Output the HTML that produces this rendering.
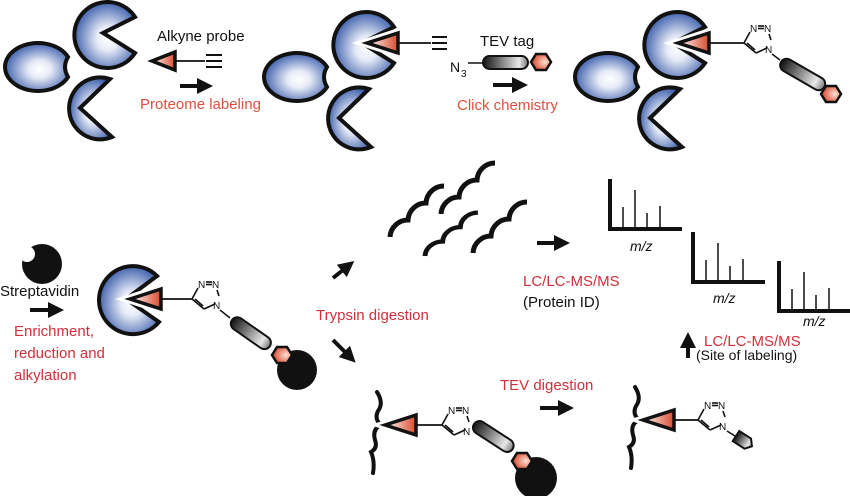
<!DOCTYPE html>
<html><head><meta charset="utf-8"><style>
html,body{margin:0;padding:0;background:#fff;}
svg{display:block;}
text{font-family:"Liberation Sans",sans-serif;}
.r{fill:#d0303a;font-size:15px;}
.b{fill:#111;font-size:15px;}
.n{font-size:10px;fill:#111;}
</style></head><body>
<svg width="850" height="496" viewBox="0 0 850 496" xmlns="http://www.w3.org/2000/svg">
<defs>
<radialGradient id="bl" cx="0.55" cy="0.55" r="0.6">
<stop offset="0" stop-color="#ffffff"/><stop offset="0.3" stop-color="#e6ebf7"/><stop offset="1" stop-color="#2b50a4"/>
</radialGradient>
<linearGradient id="rd" x1="0" x2="1" y1="0" y2="0">
<stop offset="0" stop-color="#fff"/><stop offset="1" stop-color="#d84a2c"/>
</linearGradient>
<linearGradient id="cap" x1="0" x2="1" y1="0" y2="0">
<stop offset="0" stop-color="#111"/><stop offset="0.8" stop-color="#e8e8e8"/><stop offset="1" stop-color="#777"/>
</linearGradient>
<radialGradient id="hx" cx="0.7" cy="0.5" r="0.7">
<stop offset="0" stop-color="#fbe0d0"/><stop offset="1" stop-color="#d63d24"/>
</radialGradient>
<marker id="ah" markerWidth="4" markerHeight="4" refX="2" refY="2" orient="auto" markerUnits="strokeWidth">
<path d="M0,0 L4,2 L0,4 Z" fill="#111"/>
</marker>
<g id="prot" stroke="#111" stroke-width="4" stroke-linejoin="miter" fill="url(#bl)">
<path d="M135,17 A33,33 0 1 0 135,53 L103,33 Z"/>
<path d="M68,57 A33,24 0 1 0 68,77 Q62,67 68,57 Z"/>
<path d="M110,79 L80,108 L112,137 A31,31 0 1 1 110,79 Z"/>
</g>
<g id="tri">
<polygon points="0,0 34,-11 34,11" fill="none" stroke="#fff" stroke-width="8" stroke-linejoin="miter"/>
<polygon points="2,0 33,-10 33,10" fill="url(#rd)" stroke="#111" stroke-width="3.5" stroke-linejoin="miter"/>
</g>
<g id="taz" stroke="#111" stroke-width="1.6" fill="none">
<line x1="0" y1="0" x2="6" y2="-11"/>
<line x1="14" y1="-17" x2="20" y2="-17"/>
<line x1="14" y1="-14.5" x2="20" y2="-14.5"/>
<line x1="25" y1="-9" x2="27" y2="-3"/>
<line x1="23" y1="5" x2="12" y2="10"/>
<line x1="12" y1="10" x2="0" y2="0"/>
<line x1="11" y1="7" x2="3" y2="0"/>
</g>
<g id="pep" fill="none" stroke="#111" stroke-width="4" stroke-linecap="round">
<path d="M-4,-33 Q3,-22 -3,-14 Q-7,-6 0,0 Q-9,4 -6,15 Q-3,23 -10,27 Q-6,36 -8,48"/>
</g>
<g id="frag"><path d="M0,0 a18,18 0 0 1 18,-17 a18,18 0 0 1 18,-17 a18,18 0 0 1 18,-17" fill="none" stroke="#111" stroke-width="5"/></g>
<g id="spec" stroke="#111">
<line x1="0" y1="-50" x2="0" y2="1" stroke-width="4"/>
<line x1="-2" y1="0" x2="72" y2="0" stroke-width="4"/>
<line x1="13" y1="0" x2="13" y2="-22" stroke-width="1.5"/>
<line x1="25" y1="0" x2="25" y2="-39" stroke-width="1.5"/>
<line x1="37" y1="0" x2="37" y2="-16" stroke-width="1.5"/>
<line x1="50" y1="0" x2="50" y2="-23" stroke-width="1.5"/>
</g>
</defs>

<use href="#prot"/>
<use href="#prot" transform="translate(259,10)"/>
<use href="#prot" transform="translate(570,10)"/>

<text x="157" y="41" class="b">Alkyne probe</text>
<g transform="translate(150,61)"><polygon points="2,0 25,-9 25,9" fill="url(#rd)" stroke="#111" stroke-width="3.5"/></g>
<line x1="175" y1="61" x2="205" y2="61" stroke="#111" stroke-width="1.8"/>
<g stroke="#111" stroke-width="2"><line x1="206" y1="55" x2="222" y2="55"/><line x1="206" y1="61" x2="222" y2="61"/><line x1="206" y1="67" x2="222" y2="67"/></g>
<line x1="180" y1="86" x2="205" y2="86" stroke="#111" stroke-width="4" marker-end="url(#ah)"/>
<text x="140" y="109" style="fill:#e0503f;font-size:15px">Proteome labeling</text>

<use href="#tri" transform="translate(365,43)"/>
<line x1="399" y1="43" x2="431" y2="43" stroke="#111" stroke-width="1.8"/>
<g stroke="#111" stroke-width="2"><line x1="432" y1="37" x2="447" y2="37"/><line x1="432" y1="43" x2="447" y2="43"/><line x1="432" y1="49" x2="447" y2="49"/></g>

<text x="480" y="46" class="b">TEV tag</text>
<text x="450" y="72" class="b" style="font-size:14px">N</text><text x="461" y="77" class="b" style="font-size:10px">3</text>
<line x1="468" y1="63" x2="483" y2="63" stroke="#111" stroke-width="1.5"/>
<rect x="483" y="56" width="45" height="13" rx="6.5" fill="url(#cap)" stroke="#111" stroke-width="2"/>
<polygon points="531,62 536,54 546,54 551,62 546,70 536,70" fill="url(#hx)" stroke="#111" stroke-width="2.5"/>
<line x1="493" y1="85" x2="520" y2="85" stroke="#111" stroke-width="4" marker-end="url(#ah)"/>
<text x="457" y="110" style="fill:#e0503f;font-size:15px">Click chemistry</text>

<use href="#tri" transform="translate(676,43)"/>
<line x1="710" y1="43" x2="744" y2="43" stroke="#111" stroke-width="1.8"/>
<use href="#taz" transform="translate(744,43)"/>
<text x="750" y="32" class="n">N</text><text x="764" y="32" class="n">N</text><text x="765" y="53" class="n">N</text>
<line x1="772" y1="54" x2="780" y2="60" stroke="#111" stroke-width="1.5"/>
<rect x="0" y="-6.5" width="50" height="13" rx="6.5" fill="url(#cap)" stroke="#111" stroke-width="2" transform="translate(781,62) rotate(30)"/>
<polygon points="-10,0 -5,-8 5,-8 10,0 5,8 -5,8" fill="url(#hx)" stroke="#111" stroke-width="2.5" transform="translate(831,94)"/>

<circle cx="42" cy="264" r="20" fill="#111"/>
<circle cx="27" cy="254" r="8" fill="#fff"/>
<text x="0" y="296" class="b">Streptavidin</text>
<line x1="30" y1="310" x2="56" y2="310" stroke="#111" stroke-width="4" marker-end="url(#ah)"/>
<text x="14" y="336" class="r">Enrichment,</text>
<text x="14" y="358" class="r">reduction and</text>
<text x="14" y="380" class="r">alkylation</text>

<path d="M157,276 A34,34 0 1 0 159,322 L126,299 Z" fill="url(#bl)" stroke="#111" stroke-width="4"/>
<use href="#tri" transform="translate(128,299)"/>
<line x1="162" y1="299" x2="192" y2="299" stroke="#111" stroke-width="1.8"/>
<use href="#taz" transform="translate(192,299)"/>
<text x="198" y="288" class="n">N</text><text x="212" y="288" class="n">N</text><text x="213" y="309" class="n">N</text>
<line x1="220" y1="310" x2="230" y2="318" stroke="#111" stroke-width="1.5"/>
<rect x="0" y="-6.5" width="46" height="13" rx="6.5" fill="url(#cap)" stroke="#111" stroke-width="2" transform="translate(232,320) rotate(35)"/>
<circle cx="297" cy="370" r="20" fill="#111"/>
<polygon points="-10,0 -5,-8 5,-8 10,0 5,8 -5,8" fill="url(#hx)" stroke="#111" stroke-width="2.5" transform="translate(282,355)"/>

<line x1="333" y1="278" x2="348" y2="266" stroke="#111" stroke-width="4" marker-end="url(#ah)"/>
<line x1="333" y1="340" x2="350" y2="357" stroke="#111" stroke-width="4" marker-end="url(#ah)"/>
<text x="316" y="320" class="r">Trypsin digestion</text>

<use href="#frag" transform="translate(390,237)"/>
<use href="#frag" transform="translate(441,214)"/>
<use href="#frag" transform="translate(425,256) scale(0.98,0.85)"/>
<use href="#frag" transform="translate(473,253)"/>

<line x1="537" y1="243" x2="562" y2="243" stroke="#111" stroke-width="4" marker-end="url(#ah)"/>
<text x="523" y="286" class="r">LC/LC-MS/MS</text>
<text x="523" y="307" class="b">(Protein ID)</text>

<use href="#spec" transform="translate(610,229)"/>
<text x="630" y="251" class="b" style="font-style:italic;font-size:14px">m/z</text>
<use href="#spec" transform="translate(693,282)"/>
<text x="713" y="303" class="b" style="font-style:italic;font-size:14px">m/z</text>
<use href="#spec" transform="translate(779,311)"/>
<text x="803" y="326" class="b" style="font-style:italic;font-size:14px">m/z</text>

<line x1="688" y1="358" x2="688" y2="340" stroke="#111" stroke-width="4" marker-end="url(#ah)"/>
<text x="704" y="346" class="r">LC/LC-MS/MS</text>
<text x="696" y="360" class="b" style="font-size:14px">(Site of labeling)</text>

<use href="#pep" transform="translate(381,425)"/>
<use href="#tri" transform="translate(383,425)"/>
<line x1="417" y1="425" x2="442" y2="425" stroke="#111" stroke-width="1.8"/>
<use href="#taz" transform="translate(442,425)"/>
<text x="448" y="414" class="n">N</text><text x="462" y="414" class="n">N</text><text x="463" y="435" class="n">N</text>
<rect x="0" y="-6.5" width="46" height="13" rx="6.5" fill="url(#cap)" stroke="#111" stroke-width="2" transform="translate(474,424) rotate(33)"/>
<circle cx="536" cy="478" r="21" fill="#111"/>
<polygon points="-10,0 -5,-8 5,-8 10,0 5,8 -5,8" fill="url(#hx)" stroke="#111" stroke-width="2.5" transform="translate(522,461)"/>

<text x="500" y="390" class="r">TEV digestion</text>
<line x1="540" y1="408" x2="566" y2="408" stroke="#111" stroke-width="4" marker-end="url(#ah)"/>

<use href="#pep" transform="translate(639,420)"/>
<use href="#tri" transform="translate(641,420)"/>
<line x1="675" y1="420" x2="698" y2="420" stroke="#111" stroke-width="1.8"/>
<use href="#taz" transform="translate(698,420)"/>
<text x="704" y="409" class="n">N</text><text x="718" y="409" class="n">N</text><text x="719" y="430" class="n">N</text>
<line x1="727" y1="431" x2="735" y2="436" stroke="#111" stroke-width="1.5"/>
<path d="M0,-6 L14,-6 L19,0 L14,6 L0,6 Z" fill="url(#cap)" stroke="#111" stroke-width="2" transform="translate(736,436) rotate(33)"/>
</svg>
</body></html>
